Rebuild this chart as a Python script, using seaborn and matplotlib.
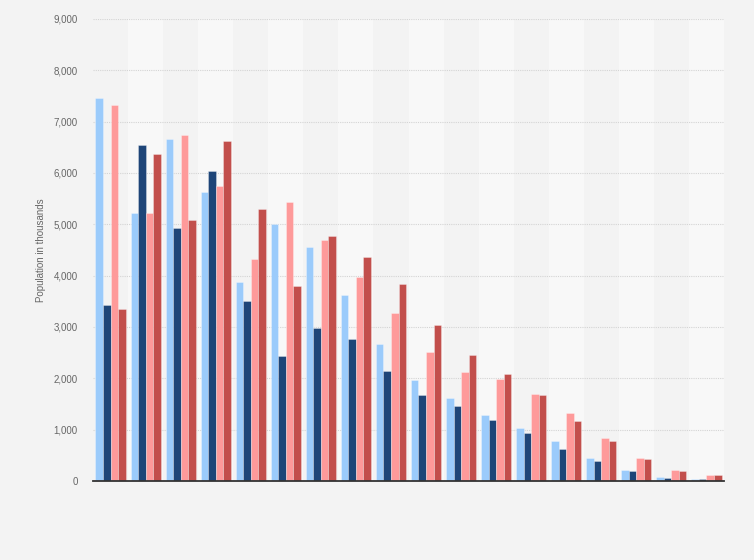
import matplotlib
matplotlib.use("Agg")
import matplotlib.pyplot as plt
import seaborn as sns
import pandas as pd
import numpy as np

groups = [f"G{i+1}" for i in range(18)]
series = ["Series 1", "Series 2", "Series 3", "Series 4"]
light_blue = [7460, 5220, 6660, 5630, 3870, 5000, 4560, 3620, 2660, 1970, 1620, 1290, 1040, 785, 450, 215, 80, 35]
dark_blue = [3430, 6540, 4930, 6040, 3500, 2430, 2990, 2760, 2150, 1680, 1470, 1190, 940, 630, 390, 195, 60, 40]
pink = [7330, 5220, 6740, 5750, 4320, 5430, 4700, 3980, 3270, 2520, 2130, 1990, 1700, 1330, 845, 450, 215, 120]
dark_red = [3350, 6370, 5080, 6620, 5300, 3800, 4770, 4360, 3830, 3030, 2460, 2090, 1680, 1175, 785, 435, 200, 120]
yticks = [0, 1000, 2000, 3000, 4000, 5000, 6000, 7000, 8000, 9000]
colors = ["#9bcbfb", "#1e4578", "#fe9a9a", "#c24f4c"]

df = pd.DataFrame({
    "group": groups * 4,
    "series": sum([[s] * 18 for s in series], []),
    "value": light_blue + dark_blue + pink + dark_red,
})

sns.set_theme(style="white")
plt.rcParams["font.family"] = ["Liberation Sans", "DejaVu Sans"]

W, H = 754, 560
fig = plt.figure(figsize=(W / 100, H / 100), dpi=100)
fig.patch.set_facecolor("#f3f3f3")
ax = fig.add_axes([93 / W, (H - 481) / H, 631 / W, (481 - 19) / H])
ax.set_facecolor("#f3f3f3")

for i in range(18):
    if i % 2 == 1:
        ax.axvspan(i - 0.5, i + 0.5, color="#f8f8f8", zorder=0, lw=0)

sns.barplot(data=df, x="group", y="value", hue="series", palette=colors,
            width=0.86, ax=ax, legend=False, saturation=1,
            edgecolor=(1, 1, 1, 0.35), linewidth=0.6, zorder=3)

ax.set_xlim(-0.5, 17.5)
ax.set_ylim(0, 9000)
ax.set_yticks(yticks)
ax.set_yticklabels([f"{v:,}" for v in yticks], fontsize=7, color="#666666")
ax.tick_params(axis="y", length=0, pad=11)
ax.set_xticks([])
ax.set_xlabel("")
ax.set_ylabel("Population in thousands", fontsize=7, color="#666666")
ax.yaxis.set_label_coords(-(93 - 46) / 631, 0.5)
for v in yticks[1:]:
    ax.axhline(v, color="#d4d4d4", lw=0.8, ls=(0, (1, 1)), zorder=1)
for s in ["top", "right", "left"]:
    ax.spines[s].set_visible(False)
ax.spines["bottom"].set_color("#333333")
ax.spines["bottom"].set_linewidth(1.3)
ax.spines["bottom"].set_zorder(5)

fig.savefig("out.png", dpi=100, facecolor=fig.get_facecolor())
